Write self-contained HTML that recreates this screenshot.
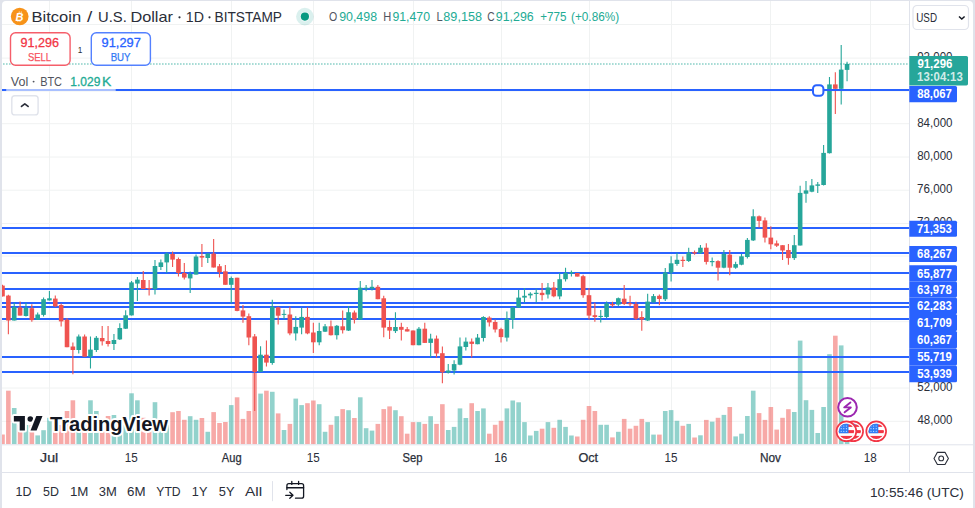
<!DOCTYPE html><html><head><meta charset="utf-8"><style>html,body{margin:0;padding:0;overflow:hidden;background:#e0e3eb}svg{display:block}</style></head><body><svg width="975" height="508" viewBox="0 0 975 508" font-family="Liberation Sans, sans-serif">
<rect width="975" height="508" fill="#e0e3eb"/>
<rect x="2" y="1" width="971" height="540" rx="4" fill="#ffffff"/>
<defs><clipPath id="pane"><rect x="2" y="1" width="907" height="443.5"/></clipPath></defs>
<g clip-path="url(#pane)">
<line x1="49.5" y1="0" x2="49.5" y2="444.5" stroke="#f0f2f2" stroke-width="1"/>
<line x1="131.5" y1="0" x2="131.5" y2="444.5" stroke="#f0f2f2" stroke-width="1"/>
<line x1="231.5" y1="0" x2="231.5" y2="444.5" stroke="#f0f2f2" stroke-width="1"/>
<line x1="313.5" y1="0" x2="313.5" y2="444.5" stroke="#f0f2f2" stroke-width="1"/>
<line x1="413.5" y1="0" x2="413.5" y2="444.5" stroke="#f0f2f2" stroke-width="1"/>
<line x1="501.5" y1="0" x2="501.5" y2="444.5" stroke="#f0f2f2" stroke-width="1"/>
<line x1="589.5" y1="0" x2="589.5" y2="444.5" stroke="#f0f2f2" stroke-width="1"/>
<line x1="671.5" y1="0" x2="671.5" y2="444.5" stroke="#f0f2f2" stroke-width="1"/>
<line x1="770.5" y1="0" x2="770.5" y2="444.5" stroke="#f0f2f2" stroke-width="1"/>
<line x1="870.5" y1="0" x2="870.5" y2="444.5" stroke="#f0f2f2" stroke-width="1"/>
<line x1="0" y1="24.5" x2="909" y2="24.5" stroke="#f0f2f2" stroke-width="1"/>
<line x1="0" y1="58.1" x2="909" y2="58.1" stroke="#f0f2f2" stroke-width="1"/>
<line x1="0" y1="91" x2="909" y2="91" stroke="#f0f2f2" stroke-width="1"/>
<line x1="0" y1="123.7" x2="909" y2="123.7" stroke="#f0f2f2" stroke-width="1"/>
<line x1="0" y1="157" x2="909" y2="157" stroke="#f0f2f2" stroke-width="1"/>
<line x1="0" y1="190.2" x2="909" y2="190.2" stroke="#f0f2f2" stroke-width="1"/>
<line x1="0" y1="223.5" x2="909" y2="223.5" stroke="#f0f2f2" stroke-width="1"/>
<line x1="0" y1="256" x2="909" y2="256" stroke="#f0f2f2" stroke-width="1"/>
<line x1="0" y1="289" x2="909" y2="289" stroke="#f0f2f2" stroke-width="1"/>
<line x1="0" y1="321.7" x2="909" y2="321.7" stroke="#f0f2f2" stroke-width="1"/>
<line x1="0" y1="388" x2="909" y2="388" stroke="#f0f2f2" stroke-width="1"/>
<line x1="0" y1="421.3" x2="909" y2="421.3" stroke="#f0f2f2" stroke-width="1"/>
<rect x="0.20" y="434.5" width="4.6" height="9.8" fill="rgba(239,83,80,0.5)"/>
<rect x="6.07" y="390.7" width="4.6" height="53.6" fill="rgba(239,83,80,0.5)"/>
<rect x="11.93" y="408.0" width="4.6" height="36.3" fill="rgba(38,166,154,0.5)"/>
<rect x="17.79" y="425.0" width="4.6" height="19.3" fill="rgba(239,83,80,0.5)"/>
<rect x="23.66" y="425.0" width="4.6" height="19.3" fill="rgba(38,166,154,0.5)"/>
<rect x="29.53" y="425.0" width="4.6" height="19.3" fill="rgba(239,83,80,0.5)"/>
<rect x="35.39" y="435.4" width="4.6" height="8.9" fill="rgba(38,166,154,0.5)"/>
<rect x="41.26" y="430.2" width="4.6" height="14.1" fill="rgba(38,166,154,0.5)"/>
<rect x="47.12" y="417.8" width="4.6" height="26.5" fill="rgba(38,166,154,0.5)"/>
<rect x="52.99" y="425.0" width="4.6" height="19.3" fill="rgba(239,83,80,0.5)"/>
<rect x="58.85" y="425.0" width="4.6" height="19.3" fill="rgba(239,83,80,0.5)"/>
<rect x="64.72" y="411.0" width="4.6" height="33.3" fill="rgba(239,83,80,0.5)"/>
<rect x="70.58" y="400.3" width="4.6" height="44.0" fill="rgba(239,83,80,0.5)"/>
<rect x="76.45" y="425.0" width="4.6" height="19.3" fill="rgba(38,166,154,0.5)"/>
<rect x="82.31" y="425.0" width="4.6" height="19.3" fill="rgba(239,83,80,0.5)"/>
<rect x="88.18" y="400.3" width="4.6" height="44.0" fill="rgba(38,166,154,0.5)"/>
<rect x="94.04" y="411.0" width="4.6" height="33.3" fill="rgba(38,166,154,0.5)"/>
<rect x="99.91" y="425.0" width="4.6" height="19.3" fill="rgba(239,83,80,0.5)"/>
<rect x="105.77" y="416.0" width="4.6" height="28.3" fill="rgba(239,83,80,0.5)"/>
<rect x="111.64" y="415.0" width="4.6" height="29.3" fill="rgba(38,166,154,0.5)"/>
<rect x="117.50" y="425.0" width="4.6" height="19.3" fill="rgba(38,166,154,0.5)"/>
<rect x="123.37" y="425.0" width="4.6" height="19.3" fill="rgba(38,166,154,0.5)"/>
<rect x="129.23" y="393.3" width="4.6" height="51.0" fill="rgba(38,166,154,0.5)"/>
<rect x="135.09" y="400.3" width="4.6" height="44.0" fill="rgba(38,166,154,0.5)"/>
<rect x="140.96" y="417.8" width="4.6" height="26.5" fill="rgba(239,83,80,0.5)"/>
<rect x="146.82" y="425.0" width="4.6" height="19.3" fill="rgba(239,83,80,0.5)"/>
<rect x="152.69" y="402.2" width="4.6" height="42.1" fill="rgba(38,166,154,0.5)"/>
<rect x="158.56" y="425.0" width="4.6" height="19.3" fill="rgba(38,166,154,0.5)"/>
<rect x="164.42" y="425.0" width="4.6" height="19.3" fill="rgba(38,166,154,0.5)"/>
<rect x="170.28" y="412.2" width="4.6" height="32.1" fill="rgba(239,83,80,0.5)"/>
<rect x="176.15" y="411.0" width="4.6" height="33.3" fill="rgba(239,83,80,0.5)"/>
<rect x="182.01" y="419.8" width="4.6" height="24.5" fill="rgba(239,83,80,0.5)"/>
<rect x="187.88" y="416.2" width="4.6" height="28.1" fill="rgba(38,166,154,0.5)"/>
<rect x="193.75" y="419.8" width="4.6" height="24.5" fill="rgba(38,166,154,0.5)"/>
<rect x="199.61" y="418.0" width="4.6" height="26.3" fill="rgba(239,83,80,0.5)"/>
<rect x="205.47" y="431.8" width="4.6" height="12.5" fill="rgba(38,166,154,0.5)"/>
<rect x="211.34" y="412.1" width="4.6" height="32.2" fill="rgba(239,83,80,0.5)"/>
<rect x="217.20" y="423.0" width="4.6" height="21.3" fill="rgba(239,83,80,0.5)"/>
<rect x="223.07" y="422.0" width="4.6" height="22.3" fill="rgba(239,83,80,0.5)"/>
<rect x="228.94" y="405.1" width="4.6" height="39.2" fill="rgba(38,166,154,0.5)"/>
<rect x="234.80" y="397.3" width="4.6" height="47.0" fill="rgba(239,83,80,0.5)"/>
<rect x="240.66" y="418.9" width="4.6" height="25.4" fill="rgba(239,83,80,0.5)"/>
<rect x="246.53" y="411.0" width="4.6" height="33.3" fill="rgba(239,83,80,0.5)"/>
<rect x="252.40" y="372.0" width="4.6" height="72.3" fill="rgba(239,83,80,0.5)"/>
<rect x="258.26" y="393.6" width="4.6" height="50.7" fill="rgba(38,166,154,0.5)"/>
<rect x="264.12" y="390.7" width="4.6" height="53.6" fill="rgba(239,83,80,0.5)"/>
<rect x="269.99" y="391.8" width="4.6" height="52.5" fill="rgba(38,166,154,0.5)"/>
<rect x="275.86" y="413.4" width="4.6" height="30.9" fill="rgba(239,83,80,0.5)"/>
<rect x="281.72" y="430.0" width="4.6" height="14.3" fill="rgba(38,166,154,0.5)"/>
<rect x="287.58" y="423.9" width="4.6" height="20.4" fill="rgba(239,83,80,0.5)"/>
<rect x="293.45" y="398.6" width="4.6" height="45.7" fill="rgba(38,166,154,0.5)"/>
<rect x="299.31" y="405.1" width="4.6" height="39.2" fill="rgba(38,166,154,0.5)"/>
<rect x="305.18" y="403.2" width="4.6" height="41.1" fill="rgba(239,83,80,0.5)"/>
<rect x="311.05" y="400.5" width="4.6" height="43.8" fill="rgba(239,83,80,0.5)"/>
<rect x="316.91" y="404.2" width="4.6" height="40.1" fill="rgba(38,166,154,0.5)"/>
<rect x="322.77" y="431.8" width="4.6" height="12.5" fill="rgba(38,166,154,0.5)"/>
<rect x="328.64" y="424.8" width="4.6" height="19.5" fill="rgba(239,83,80,0.5)"/>
<rect x="334.50" y="416.2" width="4.6" height="28.1" fill="rgba(38,166,154,0.5)"/>
<rect x="340.37" y="409.1" width="4.6" height="35.2" fill="rgba(239,83,80,0.5)"/>
<rect x="346.24" y="410.2" width="4.6" height="34.1" fill="rgba(38,166,154,0.5)"/>
<rect x="352.10" y="418.0" width="4.6" height="26.3" fill="rgba(239,83,80,0.5)"/>
<rect x="357.96" y="397.3" width="4.6" height="47.0" fill="rgba(38,166,154,0.5)"/>
<rect x="363.83" y="428.2" width="4.6" height="16.1" fill="rgba(38,166,154,0.5)"/>
<rect x="369.69" y="430.6" width="4.6" height="13.7" fill="rgba(38,166,154,0.5)"/>
<rect x="375.56" y="423.9" width="4.6" height="20.4" fill="rgba(239,83,80,0.5)"/>
<rect x="381.43" y="409.1" width="4.6" height="35.2" fill="rgba(239,83,80,0.5)"/>
<rect x="387.29" y="406.4" width="4.6" height="37.9" fill="rgba(239,83,80,0.5)"/>
<rect x="393.16" y="410.2" width="4.6" height="34.1" fill="rgba(38,166,154,0.5)"/>
<rect x="399.02" y="416.2" width="4.6" height="28.1" fill="rgba(239,83,80,0.5)"/>
<rect x="404.88" y="433.7" width="4.6" height="10.6" fill="rgba(239,83,80,0.5)"/>
<rect x="410.75" y="422.1" width="4.6" height="22.2" fill="rgba(239,83,80,0.5)"/>
<rect x="416.62" y="422.1" width="4.6" height="22.2" fill="rgba(38,166,154,0.5)"/>
<rect x="422.48" y="423.9" width="4.6" height="20.4" fill="rgba(239,83,80,0.5)"/>
<rect x="428.35" y="416.2" width="4.6" height="28.1" fill="rgba(38,166,154,0.5)"/>
<rect x="434.21" y="423.9" width="4.6" height="20.4" fill="rgba(239,83,80,0.5)"/>
<rect x="440.07" y="404.2" width="4.6" height="40.1" fill="rgba(239,83,80,0.5)"/>
<rect x="445.94" y="430.0" width="4.6" height="14.3" fill="rgba(38,166,154,0.5)"/>
<rect x="451.81" y="426.9" width="4.6" height="17.4" fill="rgba(38,166,154,0.5)"/>
<rect x="457.67" y="408.4" width="4.6" height="35.9" fill="rgba(38,166,154,0.5)"/>
<rect x="463.54" y="418.0" width="4.6" height="26.3" fill="rgba(38,166,154,0.5)"/>
<rect x="469.40" y="403.2" width="4.6" height="41.1" fill="rgba(239,83,80,0.5)"/>
<rect x="475.26" y="411.0" width="4.6" height="33.3" fill="rgba(38,166,154,0.5)"/>
<rect x="481.13" y="408.4" width="4.6" height="35.9" fill="rgba(38,166,154,0.5)"/>
<rect x="487.00" y="433.7" width="4.6" height="10.6" fill="rgba(239,83,80,0.5)"/>
<rect x="492.86" y="424.8" width="4.6" height="19.5" fill="rgba(239,83,80,0.5)"/>
<rect x="498.73" y="420.8" width="4.6" height="23.5" fill="rgba(239,83,80,0.5)"/>
<rect x="504.59" y="408.4" width="4.6" height="35.9" fill="rgba(38,166,154,0.5)"/>
<rect x="510.45" y="400.5" width="4.6" height="43.8" fill="rgba(38,166,154,0.5)"/>
<rect x="516.32" y="402.3" width="4.6" height="42.0" fill="rgba(38,166,154,0.5)"/>
<rect x="522.19" y="422.1" width="4.6" height="22.2" fill="rgba(38,166,154,0.5)"/>
<rect x="528.05" y="435.5" width="4.6" height="8.8" fill="rgba(38,166,154,0.5)"/>
<rect x="533.92" y="430.9" width="4.6" height="13.4" fill="rgba(38,166,154,0.5)"/>
<rect x="539.78" y="428.7" width="4.6" height="15.6" fill="rgba(239,83,80,0.5)"/>
<rect x="545.65" y="422.1" width="4.6" height="22.2" fill="rgba(38,166,154,0.5)"/>
<rect x="551.51" y="427.8" width="4.6" height="16.5" fill="rgba(239,83,80,0.5)"/>
<rect x="557.38" y="419.8" width="4.6" height="24.5" fill="rgba(38,166,154,0.5)"/>
<rect x="563.24" y="426.9" width="4.6" height="17.4" fill="rgba(38,166,154,0.5)"/>
<rect x="569.11" y="435.5" width="4.6" height="8.8" fill="rgba(38,166,154,0.5)"/>
<rect x="574.97" y="436.5" width="4.6" height="7.8" fill="rgba(239,83,80,0.5)"/>
<rect x="580.84" y="419.8" width="4.6" height="24.5" fill="rgba(239,83,80,0.5)"/>
<rect x="586.70" y="406.0" width="4.6" height="38.3" fill="rgba(239,83,80,0.5)"/>
<rect x="592.57" y="411.0" width="4.6" height="33.3" fill="rgba(239,83,80,0.5)"/>
<rect x="598.43" y="424.8" width="4.6" height="19.5" fill="rgba(38,166,154,0.5)"/>
<rect x="604.30" y="424.8" width="4.6" height="19.5" fill="rgba(38,166,154,0.5)"/>
<rect x="610.16" y="437.4" width="4.6" height="6.9" fill="rgba(239,83,80,0.5)"/>
<rect x="616.03" y="431.8" width="4.6" height="12.5" fill="rgba(38,166,154,0.5)"/>
<rect x="621.89" y="418.9" width="4.6" height="25.4" fill="rgba(239,83,80,0.5)"/>
<rect x="627.76" y="428.7" width="4.6" height="15.6" fill="rgba(239,83,80,0.5)"/>
<rect x="633.62" y="425.8" width="4.6" height="18.5" fill="rgba(239,83,80,0.5)"/>
<rect x="639.49" y="418.9" width="4.6" height="25.4" fill="rgba(239,83,80,0.5)"/>
<rect x="645.35" y="422.1" width="4.6" height="22.2" fill="rgba(38,166,154,0.5)"/>
<rect x="651.22" y="434.6" width="4.6" height="9.7" fill="rgba(38,166,154,0.5)"/>
<rect x="657.08" y="434.6" width="4.6" height="9.7" fill="rgba(239,83,80,0.5)"/>
<rect x="662.95" y="411.0" width="4.6" height="33.3" fill="rgba(38,166,154,0.5)"/>
<rect x="668.81" y="410.1" width="4.6" height="34.2" fill="rgba(38,166,154,0.5)"/>
<rect x="674.68" y="420.8" width="4.6" height="23.5" fill="rgba(38,166,154,0.5)"/>
<rect x="680.54" y="425.8" width="4.6" height="18.5" fill="rgba(239,83,80,0.5)"/>
<rect x="686.41" y="423.9" width="4.6" height="20.4" fill="rgba(38,166,154,0.5)"/>
<rect x="692.27" y="437.5" width="4.6" height="6.8" fill="rgba(239,83,80,0.5)"/>
<rect x="698.14" y="435.3" width="4.6" height="9.0" fill="rgba(38,166,154,0.5)"/>
<rect x="704.00" y="419.9" width="4.6" height="24.4" fill="rgba(239,83,80,0.5)"/>
<rect x="709.87" y="421.7" width="4.6" height="22.6" fill="rgba(38,166,154,0.5)"/>
<rect x="715.73" y="417.8" width="4.6" height="26.5" fill="rgba(239,83,80,0.5)"/>
<rect x="721.60" y="414.9" width="4.6" height="29.4" fill="rgba(38,166,154,0.5)"/>
<rect x="727.46" y="407.0" width="4.6" height="37.3" fill="rgba(239,83,80,0.5)"/>
<rect x="733.33" y="436.4" width="4.6" height="7.9" fill="rgba(38,166,154,0.5)"/>
<rect x="739.19" y="433.7" width="4.6" height="10.6" fill="rgba(38,166,154,0.5)"/>
<rect x="745.06" y="416.0" width="4.6" height="28.3" fill="rgba(38,166,154,0.5)"/>
<rect x="750.92" y="390.7" width="4.6" height="53.6" fill="rgba(38,166,154,0.5)"/>
<rect x="756.79" y="413.1" width="4.6" height="31.2" fill="rgba(239,83,80,0.5)"/>
<rect x="762.65" y="419.9" width="4.6" height="24.4" fill="rgba(239,83,80,0.5)"/>
<rect x="768.52" y="407.0" width="4.6" height="37.3" fill="rgba(239,83,80,0.5)"/>
<rect x="774.38" y="429.6" width="4.6" height="14.7" fill="rgba(239,83,80,0.5)"/>
<rect x="780.25" y="417.8" width="4.6" height="26.5" fill="rgba(239,83,80,0.5)"/>
<rect x="786.11" y="409.2" width="4.6" height="35.1" fill="rgba(239,83,80,0.5)"/>
<rect x="791.98" y="412.0" width="4.6" height="32.3" fill="rgba(38,166,154,0.5)"/>
<rect x="797.84" y="340.6" width="4.6" height="103.7" fill="rgba(38,166,154,0.5)"/>
<rect x="803.71" y="400.2" width="4.6" height="44.1" fill="rgba(38,166,154,0.5)"/>
<rect x="809.57" y="409.9" width="4.6" height="34.4" fill="rgba(38,166,154,0.5)"/>
<rect x="815.44" y="433.0" width="4.6" height="11.3" fill="rgba(38,166,154,0.5)"/>
<rect x="821.30" y="407.0" width="4.6" height="37.3" fill="rgba(38,166,154,0.5)"/>
<rect x="827.17" y="354.2" width="4.6" height="90.1" fill="rgba(38,166,154,0.5)"/>
<rect x="833.03" y="335.7" width="4.6" height="108.6" fill="rgba(239,83,80,0.5)"/>
<rect x="838.90" y="345.4" width="4.6" height="98.9" fill="rgba(38,166,154,0.5)"/>
<rect x="844.76" y="440.0" width="4.6" height="4.3" fill="rgba(38,166,154,0.5)"/>
<line x1="0" y1="228.00" x2="909" y2="228.00" stroke="#2962ff" stroke-width="2"/>
<line x1="0" y1="253.00" x2="909" y2="253.00" stroke="#2962ff" stroke-width="2"/>
<line x1="0" y1="273.00" x2="909" y2="273.00" stroke="#2962ff" stroke-width="2"/>
<line x1="0" y1="289.00" x2="909" y2="289.00" stroke="#2962ff" stroke-width="2"/>
<line x1="0" y1="303.00" x2="909" y2="303.00" stroke="#2962ff" stroke-width="2"/>
<line x1="0" y1="307.00" x2="909" y2="307.00" stroke="#2962ff" stroke-width="2"/>
<line x1="0" y1="319.00" x2="909" y2="319.00" stroke="#2962ff" stroke-width="2"/>
<line x1="0" y1="357.00" x2="909" y2="357.00" stroke="#2962ff" stroke-width="2"/>
<line x1="0" y1="372.00" x2="909" y2="372.00" stroke="#2962ff" stroke-width="2"/>
<line x1="2.50" y1="284.7" x2="2.50" y2="296.4" stroke="#ef5350" stroke-width="1.1"/>
<rect x="0.20" y="285.6" width="4.6" height="10.8" fill="#ef5350"/>
<line x1="8.37" y1="294.8" x2="8.37" y2="334.3" stroke="#ef5350" stroke-width="1.1"/>
<rect x="6.07" y="295.6" width="4.6" height="24.9" fill="#ef5350"/>
<line x1="14.23" y1="302.7" x2="14.23" y2="320.5" stroke="#26a69a" stroke-width="1.1"/>
<rect x="11.93" y="307.1" width="4.6" height="13.4" fill="#26a69a"/>
<line x1="20.09" y1="301.6" x2="20.09" y2="315.6" stroke="#ef5350" stroke-width="1.1"/>
<rect x="17.79" y="307.5" width="4.6" height="8.1" fill="#ef5350"/>
<line x1="25.96" y1="302.7" x2="25.96" y2="316.6" stroke="#26a69a" stroke-width="1.1"/>
<rect x="23.66" y="307.8" width="4.6" height="8.2" fill="#26a69a"/>
<line x1="31.83" y1="304.3" x2="31.83" y2="321.8" stroke="#ef5350" stroke-width="1.1"/>
<rect x="29.53" y="308.2" width="4.6" height="11.9" fill="#ef5350"/>
<line x1="37.69" y1="312.6" x2="37.69" y2="319.9" stroke="#26a69a" stroke-width="1.1"/>
<rect x="35.39" y="314.5" width="4.6" height="5.2" fill="#26a69a"/>
<line x1="43.55" y1="297.6" x2="43.55" y2="316.5" stroke="#26a69a" stroke-width="1.1"/>
<rect x="41.26" y="299.2" width="4.6" height="15.7" fill="#26a69a"/>
<line x1="49.42" y1="291.0" x2="49.42" y2="300.4" stroke="#26a69a" stroke-width="1.1"/>
<rect x="47.12" y="298.3" width="4.6" height="2.1" fill="#26a69a"/>
<line x1="55.29" y1="295.5" x2="55.29" y2="307.1" stroke="#ef5350" stroke-width="1.1"/>
<rect x="52.99" y="298.6" width="4.6" height="7.7" fill="#ef5350"/>
<line x1="61.15" y1="303.6" x2="61.15" y2="326.5" stroke="#ef5350" stroke-width="1.1"/>
<rect x="58.85" y="305.0" width="4.6" height="16.4" fill="#ef5350"/>
<line x1="67.02" y1="318.0" x2="67.02" y2="347.2" stroke="#ef5350" stroke-width="1.1"/>
<rect x="64.72" y="319.7" width="4.6" height="27.5" fill="#ef5350"/>
<line x1="72.88" y1="342.5" x2="72.88" y2="374.3" stroke="#ef5350" stroke-width="1.1"/>
<rect x="70.58" y="346.5" width="4.6" height="3.5" fill="#ef5350"/>
<line x1="78.75" y1="334.6" x2="78.75" y2="353.5" stroke="#26a69a" stroke-width="1.1"/>
<rect x="76.45" y="336.5" width="4.6" height="13.5" fill="#26a69a"/>
<line x1="84.61" y1="334.6" x2="84.61" y2="356.7" stroke="#ef5350" stroke-width="1.1"/>
<rect x="82.31" y="336.5" width="4.6" height="20.2" fill="#ef5350"/>
<line x1="90.48" y1="336.5" x2="90.48" y2="368.5" stroke="#26a69a" stroke-width="1.1"/>
<rect x="88.18" y="349.6" width="4.6" height="7.1" fill="#26a69a"/>
<line x1="96.34" y1="336.0" x2="96.34" y2="352.0" stroke="#26a69a" stroke-width="1.1"/>
<rect x="94.04" y="337.8" width="4.6" height="12.2" fill="#26a69a"/>
<line x1="102.20" y1="326.0" x2="102.20" y2="345.4" stroke="#ef5350" stroke-width="1.1"/>
<rect x="99.91" y="338.0" width="4.6" height="3.3" fill="#ef5350"/>
<line x1="108.07" y1="326.0" x2="108.07" y2="346.5" stroke="#ef5350" stroke-width="1.1"/>
<rect x="105.77" y="341.0" width="4.6" height="3.0" fill="#ef5350"/>
<line x1="113.94" y1="333.9" x2="113.94" y2="350.0" stroke="#26a69a" stroke-width="1.1"/>
<rect x="111.64" y="340.0" width="4.6" height="4.0" fill="#26a69a"/>
<line x1="119.80" y1="323.3" x2="119.80" y2="340.0" stroke="#26a69a" stroke-width="1.1"/>
<rect x="117.50" y="328.0" width="4.6" height="11.4" fill="#26a69a"/>
<line x1="125.67" y1="310.2" x2="125.67" y2="329.0" stroke="#26a69a" stroke-width="1.1"/>
<rect x="123.37" y="315.3" width="4.6" height="13.4" fill="#26a69a"/>
<line x1="131.53" y1="281.0" x2="131.53" y2="315.6" stroke="#26a69a" stroke-width="1.1"/>
<rect x="129.23" y="282.4" width="4.6" height="33.0" fill="#26a69a"/>
<line x1="137.40" y1="277.0" x2="137.40" y2="301.0" stroke="#26a69a" stroke-width="1.1"/>
<rect x="135.09" y="279.6" width="4.6" height="4.0" fill="#26a69a"/>
<line x1="143.26" y1="271.0" x2="143.26" y2="289.0" stroke="#ef5350" stroke-width="1.1"/>
<rect x="140.96" y="280.0" width="4.6" height="9.0" fill="#ef5350"/>
<line x1="149.12" y1="280.0" x2="149.12" y2="295.6" stroke="#ef5350" stroke-width="1.1"/>
<rect x="146.82" y="288.0" width="4.6" height="1.0" fill="#ef5350"/>
<line x1="154.99" y1="260.0" x2="154.99" y2="294.4" stroke="#26a69a" stroke-width="1.1"/>
<rect x="152.69" y="266.0" width="4.6" height="23.0" fill="#26a69a"/>
<line x1="160.86" y1="259.4" x2="160.86" y2="270.0" stroke="#26a69a" stroke-width="1.1"/>
<rect x="158.56" y="262.4" width="4.6" height="4.6" fill="#26a69a"/>
<line x1="166.72" y1="252.4" x2="166.72" y2="273.0" stroke="#26a69a" stroke-width="1.1"/>
<rect x="164.42" y="253.6" width="4.6" height="8.8" fill="#26a69a"/>
<line x1="172.59" y1="251.6" x2="172.59" y2="267.0" stroke="#ef5350" stroke-width="1.1"/>
<rect x="170.28" y="254.0" width="4.6" height="5.6" fill="#ef5350"/>
<line x1="178.45" y1="257.6" x2="178.45" y2="276.4" stroke="#ef5350" stroke-width="1.1"/>
<rect x="176.15" y="259.0" width="4.6" height="14.0" fill="#ef5350"/>
<line x1="184.31" y1="263.0" x2="184.31" y2="279.6" stroke="#ef5350" stroke-width="1.1"/>
<rect x="182.01" y="273.0" width="4.6" height="4.6" fill="#ef5350"/>
<line x1="190.18" y1="271.6" x2="190.18" y2="293.0" stroke="#26a69a" stroke-width="1.1"/>
<rect x="187.88" y="274.0" width="4.6" height="4.4" fill="#26a69a"/>
<line x1="196.05" y1="254.4" x2="196.05" y2="274.6" stroke="#26a69a" stroke-width="1.1"/>
<rect x="193.75" y="256.5" width="4.6" height="18.1" fill="#26a69a"/>
<line x1="201.91" y1="243.9" x2="201.91" y2="267.0" stroke="#ef5350" stroke-width="1.1"/>
<rect x="199.61" y="256.0" width="4.6" height="1.6" fill="#ef5350"/>
<line x1="207.78" y1="253.3" x2="207.78" y2="263.0" stroke="#26a69a" stroke-width="1.1"/>
<rect x="205.47" y="253.6" width="4.6" height="4.4" fill="#26a69a"/>
<line x1="213.64" y1="239.0" x2="213.64" y2="267.5" stroke="#ef5350" stroke-width="1.1"/>
<rect x="211.34" y="253.6" width="4.6" height="13.9" fill="#ef5350"/>
<line x1="219.50" y1="263.9" x2="219.50" y2="277.6" stroke="#ef5350" stroke-width="1.1"/>
<rect x="217.20" y="266.2" width="4.6" height="6.0" fill="#ef5350"/>
<line x1="225.37" y1="265.0" x2="225.37" y2="284.8" stroke="#ef5350" stroke-width="1.1"/>
<rect x="223.07" y="271.3" width="4.6" height="13.5" fill="#ef5350"/>
<line x1="231.24" y1="276.5" x2="231.24" y2="303.2" stroke="#26a69a" stroke-width="1.1"/>
<rect x="228.94" y="278.0" width="4.6" height="6.8" fill="#26a69a"/>
<line x1="237.10" y1="277.7" x2="237.10" y2="311.3" stroke="#ef5350" stroke-width="1.1"/>
<rect x="234.80" y="277.7" width="4.6" height="33.2" fill="#ef5350"/>
<line x1="242.97" y1="305.0" x2="242.97" y2="322.8" stroke="#ef5350" stroke-width="1.1"/>
<rect x="240.66" y="310.4" width="4.6" height="6.2" fill="#ef5350"/>
<line x1="248.83" y1="313.4" x2="248.83" y2="345.3" stroke="#ef5350" stroke-width="1.1"/>
<rect x="246.53" y="316.2" width="4.6" height="21.3" fill="#ef5350"/>
<line x1="254.70" y1="334.0" x2="254.70" y2="411.0" stroke="#ef5350" stroke-width="1.1"/>
<rect x="252.40" y="336.4" width="4.6" height="35.5" fill="#ef5350"/>
<line x1="260.56" y1="346.3" x2="260.56" y2="371.9" stroke="#26a69a" stroke-width="1.1"/>
<rect x="258.26" y="354.7" width="4.6" height="17.2" fill="#26a69a"/>
<line x1="266.43" y1="340.5" x2="266.43" y2="366.5" stroke="#ef5350" stroke-width="1.1"/>
<rect x="264.12" y="354.7" width="4.6" height="7.9" fill="#ef5350"/>
<line x1="272.29" y1="299.7" x2="272.29" y2="364.8" stroke="#26a69a" stroke-width="1.1"/>
<rect x="269.99" y="306.8" width="4.6" height="56.2" fill="#26a69a"/>
<line x1="278.16" y1="306.8" x2="278.16" y2="324.5" stroke="#ef5350" stroke-width="1.1"/>
<rect x="275.86" y="307.4" width="4.6" height="8.3" fill="#ef5350"/>
<line x1="284.02" y1="309.5" x2="284.02" y2="319.2" stroke="#26a69a" stroke-width="1.1"/>
<rect x="281.72" y="313.9" width="4.6" height="1.0" fill="#26a69a"/>
<line x1="289.88" y1="306.8" x2="289.88" y2="335.2" stroke="#ef5350" stroke-width="1.1"/>
<rect x="287.58" y="314.5" width="4.6" height="18.9" fill="#ef5350"/>
<line x1="295.75" y1="316.2" x2="295.75" y2="340.5" stroke="#26a69a" stroke-width="1.1"/>
<rect x="293.45" y="326.9" width="4.6" height="6.5" fill="#26a69a"/>
<line x1="301.62" y1="307.7" x2="301.62" y2="334.3" stroke="#26a69a" stroke-width="1.1"/>
<rect x="299.31" y="316.9" width="4.6" height="10.7" fill="#26a69a"/>
<line x1="307.48" y1="307.4" x2="307.48" y2="334.3" stroke="#ef5350" stroke-width="1.1"/>
<rect x="305.18" y="316.9" width="4.6" height="16.5" fill="#ef5350"/>
<line x1="313.35" y1="322.8" x2="313.35" y2="352.9" stroke="#ef5350" stroke-width="1.1"/>
<rect x="311.05" y="332.5" width="4.6" height="9.8" fill="#ef5350"/>
<line x1="319.21" y1="322.8" x2="319.21" y2="345.3" stroke="#26a69a" stroke-width="1.1"/>
<rect x="316.91" y="331.0" width="4.6" height="11.3" fill="#26a69a"/>
<line x1="325.07" y1="324.0" x2="325.07" y2="332.0" stroke="#26a69a" stroke-width="1.1"/>
<rect x="322.77" y="326.3" width="4.6" height="5.4" fill="#26a69a"/>
<line x1="330.94" y1="320.5" x2="330.94" y2="335.6" stroke="#ef5350" stroke-width="1.1"/>
<rect x="328.64" y="326.3" width="4.6" height="8.9" fill="#ef5350"/>
<line x1="336.81" y1="325.0" x2="336.81" y2="339.5" stroke="#26a69a" stroke-width="1.1"/>
<rect x="334.50" y="325.8" width="4.6" height="9.4" fill="#26a69a"/>
<line x1="342.67" y1="310.4" x2="342.67" y2="333.4" stroke="#ef5350" stroke-width="1.1"/>
<rect x="340.37" y="326.3" width="4.6" height="3.9" fill="#ef5350"/>
<line x1="348.54" y1="306.3" x2="348.54" y2="331.1" stroke="#26a69a" stroke-width="1.1"/>
<rect x="346.24" y="312.2" width="4.6" height="18.4" fill="#26a69a"/>
<line x1="354.40" y1="310.4" x2="354.40" y2="323.5" stroke="#ef5350" stroke-width="1.1"/>
<rect x="352.10" y="312.5" width="4.6" height="7.1" fill="#ef5350"/>
<line x1="360.26" y1="281.0" x2="360.26" y2="319.6" stroke="#26a69a" stroke-width="1.1"/>
<rect x="357.96" y="287.7" width="4.6" height="31.9" fill="#26a69a"/>
<line x1="366.13" y1="285.0" x2="366.13" y2="291.3" stroke="#26a69a" stroke-width="1.1"/>
<rect x="363.83" y="287.7" width="4.6" height="1.0" fill="#26a69a"/>
<line x1="372.00" y1="280.1" x2="372.00" y2="290.4" stroke="#26a69a" stroke-width="1.1"/>
<rect x="369.69" y="286.8" width="4.6" height="1.8" fill="#26a69a"/>
<line x1="377.86" y1="285.0" x2="377.86" y2="299.2" stroke="#ef5350" stroke-width="1.1"/>
<rect x="375.56" y="286.8" width="4.6" height="12.4" fill="#ef5350"/>
<line x1="383.73" y1="295.7" x2="383.73" y2="337.3" stroke="#ef5350" stroke-width="1.1"/>
<rect x="381.43" y="298.3" width="4.6" height="29.3" fill="#ef5350"/>
<line x1="389.59" y1="320.5" x2="389.59" y2="339.1" stroke="#ef5350" stroke-width="1.1"/>
<rect x="387.29" y="327.0" width="4.6" height="3.6" fill="#ef5350"/>
<line x1="395.46" y1="312.2" x2="395.46" y2="332.9" stroke="#26a69a" stroke-width="1.1"/>
<rect x="393.16" y="327.0" width="4.6" height="4.1" fill="#26a69a"/>
<line x1="401.32" y1="322.7" x2="401.32" y2="340.4" stroke="#ef5350" stroke-width="1.1"/>
<rect x="399.02" y="326.9" width="4.6" height="2.9" fill="#ef5350"/>
<line x1="407.19" y1="326.9" x2="407.19" y2="331.5" stroke="#ef5350" stroke-width="1.1"/>
<rect x="404.88" y="329.2" width="4.6" height="2.3" fill="#ef5350"/>
<line x1="413.05" y1="330.5" x2="413.05" y2="345.2" stroke="#ef5350" stroke-width="1.1"/>
<rect x="410.75" y="330.5" width="4.6" height="14.7" fill="#ef5350"/>
<line x1="418.92" y1="326.9" x2="418.92" y2="345.2" stroke="#26a69a" stroke-width="1.1"/>
<rect x="416.62" y="328.7" width="4.6" height="16.5" fill="#26a69a"/>
<line x1="424.78" y1="322.7" x2="424.78" y2="342.9" stroke="#ef5350" stroke-width="1.1"/>
<rect x="422.48" y="328.7" width="4.6" height="14.2" fill="#ef5350"/>
<line x1="430.65" y1="333.7" x2="430.65" y2="357.6" stroke="#26a69a" stroke-width="1.1"/>
<rect x="428.35" y="338.6" width="4.6" height="4.3" fill="#26a69a"/>
<line x1="436.51" y1="335.4" x2="436.51" y2="357.6" stroke="#ef5350" stroke-width="1.1"/>
<rect x="434.21" y="338.6" width="4.6" height="14.9" fill="#ef5350"/>
<line x1="442.38" y1="346.4" x2="442.38" y2="383.3" stroke="#ef5350" stroke-width="1.1"/>
<rect x="440.07" y="353.2" width="4.6" height="19.1" fill="#ef5350"/>
<line x1="448.24" y1="364.1" x2="448.24" y2="373.5" stroke="#26a69a" stroke-width="1.1"/>
<rect x="445.94" y="370.5" width="4.6" height="2.1" fill="#26a69a"/>
<line x1="454.11" y1="360.2" x2="454.11" y2="374.4" stroke="#26a69a" stroke-width="1.1"/>
<rect x="451.81" y="364.1" width="4.6" height="6.4" fill="#26a69a"/>
<line x1="459.97" y1="337.6" x2="459.97" y2="365.2" stroke="#26a69a" stroke-width="1.1"/>
<rect x="457.67" y="346.4" width="4.6" height="18.3" fill="#26a69a"/>
<line x1="465.84" y1="337.6" x2="465.84" y2="350.5" stroke="#26a69a" stroke-width="1.1"/>
<rect x="463.54" y="341.6" width="4.6" height="5.4" fill="#26a69a"/>
<line x1="471.70" y1="338.6" x2="471.70" y2="357.6" stroke="#ef5350" stroke-width="1.1"/>
<rect x="469.40" y="341.6" width="4.6" height="2.3" fill="#ef5350"/>
<line x1="477.56" y1="334.1" x2="477.56" y2="344.2" stroke="#26a69a" stroke-width="1.1"/>
<rect x="475.26" y="337.6" width="4.6" height="6.6" fill="#26a69a"/>
<line x1="483.43" y1="316.3" x2="483.43" y2="341.5" stroke="#26a69a" stroke-width="1.1"/>
<rect x="481.13" y="317.0" width="4.6" height="21.0" fill="#26a69a"/>
<line x1="489.30" y1="316.3" x2="489.30" y2="326.4" stroke="#ef5350" stroke-width="1.1"/>
<rect x="487.00" y="317.6" width="4.6" height="4.8" fill="#ef5350"/>
<line x1="495.16" y1="319.4" x2="495.16" y2="332.6" stroke="#ef5350" stroke-width="1.1"/>
<rect x="492.86" y="322.0" width="4.6" height="7.5" fill="#ef5350"/>
<line x1="501.03" y1="327.7" x2="501.03" y2="342.4" stroke="#ef5350" stroke-width="1.1"/>
<rect x="498.73" y="329.1" width="4.6" height="8.0" fill="#ef5350"/>
<line x1="506.89" y1="311.4" x2="506.89" y2="341.5" stroke="#26a69a" stroke-width="1.1"/>
<rect x="504.59" y="318.8" width="4.6" height="18.8" fill="#26a69a"/>
<line x1="512.75" y1="307.0" x2="512.75" y2="328.7" stroke="#26a69a" stroke-width="1.1"/>
<rect x="510.45" y="307.5" width="4.6" height="11.9" fill="#26a69a"/>
<line x1="518.62" y1="289.8" x2="518.62" y2="307.8" stroke="#26a69a" stroke-width="1.1"/>
<rect x="516.32" y="297.6" width="4.6" height="9.9" fill="#26a69a"/>
<line x1="524.49" y1="288.0" x2="524.49" y2="302.5" stroke="#26a69a" stroke-width="1.1"/>
<rect x="522.19" y="295.8" width="4.6" height="1.8" fill="#26a69a"/>
<line x1="530.35" y1="292.2" x2="530.35" y2="298.6" stroke="#26a69a" stroke-width="1.1"/>
<rect x="528.05" y="293.7" width="4.6" height="1.7" fill="#26a69a"/>
<line x1="536.22" y1="288.7" x2="536.22" y2="302.5" stroke="#26a69a" stroke-width="1.1"/>
<rect x="533.92" y="292.8" width="4.6" height="1.2" fill="#26a69a"/>
<line x1="542.08" y1="283.0" x2="542.08" y2="300.4" stroke="#ef5350" stroke-width="1.1"/>
<rect x="539.78" y="292.8" width="4.6" height="2.3" fill="#ef5350"/>
<line x1="547.95" y1="283.0" x2="547.95" y2="298.6" stroke="#26a69a" stroke-width="1.1"/>
<rect x="545.65" y="287.5" width="4.6" height="7.0" fill="#26a69a"/>
<line x1="553.81" y1="282.1" x2="553.81" y2="297.2" stroke="#ef5350" stroke-width="1.1"/>
<rect x="551.51" y="287.5" width="4.6" height="8.8" fill="#ef5350"/>
<line x1="559.68" y1="273.0" x2="559.68" y2="299.3" stroke="#26a69a" stroke-width="1.1"/>
<rect x="557.38" y="279.2" width="4.6" height="17.2" fill="#26a69a"/>
<line x1="565.54" y1="267.7" x2="565.54" y2="281.5" stroke="#26a69a" stroke-width="1.1"/>
<rect x="563.24" y="273.0" width="4.6" height="6.2" fill="#26a69a"/>
<line x1="571.40" y1="270.4" x2="571.40" y2="276.6" stroke="#26a69a" stroke-width="1.1"/>
<rect x="569.11" y="272.1" width="4.6" height="1.3" fill="#26a69a"/>
<line x1="577.27" y1="273.0" x2="577.27" y2="276.6" stroke="#ef5350" stroke-width="1.1"/>
<rect x="574.97" y="273.0" width="4.6" height="3.6" fill="#ef5350"/>
<line x1="583.13" y1="274.8" x2="583.13" y2="297.8" stroke="#ef5350" stroke-width="1.1"/>
<rect x="580.84" y="276.2" width="4.6" height="19.0" fill="#ef5350"/>
<line x1="589.00" y1="288.1" x2="589.00" y2="319.5" stroke="#ef5350" stroke-width="1.1"/>
<rect x="586.70" y="295.2" width="4.6" height="20.4" fill="#ef5350"/>
<line x1="594.87" y1="302.8" x2="594.87" y2="321.8" stroke="#ef5350" stroke-width="1.1"/>
<rect x="592.57" y="315.2" width="4.6" height="1.8" fill="#ef5350"/>
<line x1="600.73" y1="309.9" x2="600.73" y2="322.6" stroke="#26a69a" stroke-width="1.1"/>
<rect x="598.43" y="315.9" width="4.6" height="1.1" fill="#26a69a"/>
<line x1="606.60" y1="301.4" x2="606.60" y2="318.2" stroke="#26a69a" stroke-width="1.1"/>
<rect x="604.30" y="303.5" width="4.6" height="13.5" fill="#26a69a"/>
<line x1="612.46" y1="301.7" x2="612.46" y2="307.0" stroke="#ef5350" stroke-width="1.1"/>
<rect x="610.16" y="304.0" width="4.6" height="1.3" fill="#ef5350"/>
<line x1="618.33" y1="297.5" x2="618.33" y2="306.3" stroke="#26a69a" stroke-width="1.1"/>
<rect x="616.03" y="298.2" width="4.6" height="6.4" fill="#26a69a"/>
<line x1="624.19" y1="285.1" x2="624.19" y2="304.9" stroke="#ef5350" stroke-width="1.1"/>
<rect x="621.89" y="298.7" width="4.6" height="5.3" fill="#ef5350"/>
<line x1="630.06" y1="295.7" x2="630.06" y2="306.3" stroke="#ef5350" stroke-width="1.1"/>
<rect x="627.76" y="303.2" width="4.6" height="1.0" fill="#ef5350"/>
<line x1="635.92" y1="301.7" x2="635.92" y2="320.0" stroke="#ef5350" stroke-width="1.1"/>
<rect x="633.62" y="304.0" width="4.6" height="14.7" fill="#ef5350"/>
<line x1="641.78" y1="311.2" x2="641.78" y2="330.8" stroke="#ef5350" stroke-width="1.1"/>
<rect x="639.49" y="317.0" width="4.6" height="2.5" fill="#ef5350"/>
<line x1="647.65" y1="293.7" x2="647.65" y2="321.0" stroke="#26a69a" stroke-width="1.1"/>
<rect x="645.35" y="301.6" width="4.6" height="18.9" fill="#26a69a"/>
<line x1="653.51" y1="294.0" x2="653.51" y2="302.6" stroke="#26a69a" stroke-width="1.1"/>
<rect x="651.22" y="296.1" width="4.6" height="6.2" fill="#26a69a"/>
<line x1="659.38" y1="294.4" x2="659.38" y2="305.3" stroke="#ef5350" stroke-width="1.1"/>
<rect x="657.08" y="295.8" width="4.6" height="3.2" fill="#ef5350"/>
<line x1="665.25" y1="268.1" x2="665.25" y2="301.0" stroke="#26a69a" stroke-width="1.1"/>
<rect x="662.95" y="272.5" width="4.6" height="26.7" fill="#26a69a"/>
<line x1="671.11" y1="256.2" x2="671.11" y2="281.4" stroke="#26a69a" stroke-width="1.1"/>
<rect x="668.81" y="263.3" width="4.6" height="9.2" fill="#26a69a"/>
<line x1="676.98" y1="252.7" x2="676.98" y2="265.8" stroke="#26a69a" stroke-width="1.1"/>
<rect x="674.68" y="259.8" width="4.6" height="4.2" fill="#26a69a"/>
<line x1="682.84" y1="256.6" x2="682.84" y2="266.9" stroke="#ef5350" stroke-width="1.1"/>
<rect x="680.54" y="259.8" width="4.6" height="1.2" fill="#ef5350"/>
<line x1="688.71" y1="247.7" x2="688.71" y2="261.9" stroke="#26a69a" stroke-width="1.1"/>
<rect x="686.41" y="252.7" width="4.6" height="8.3" fill="#26a69a"/>
<line x1="694.57" y1="250.4" x2="694.57" y2="254.8" stroke="#ef5350" stroke-width="1.1"/>
<rect x="692.27" y="252.1" width="4.6" height="1.3" fill="#ef5350"/>
<line x1="700.44" y1="245.0" x2="700.44" y2="254.0" stroke="#26a69a" stroke-width="1.1"/>
<rect x="698.14" y="247.7" width="4.6" height="5.3" fill="#26a69a"/>
<line x1="706.30" y1="243.3" x2="706.30" y2="264.5" stroke="#ef5350" stroke-width="1.1"/>
<rect x="704.00" y="247.7" width="4.6" height="14.2" fill="#ef5350"/>
<line x1="712.17" y1="257.5" x2="712.17" y2="266.3" stroke="#26a69a" stroke-width="1.1"/>
<rect x="709.87" y="261.0" width="4.6" height="1.2" fill="#26a69a"/>
<line x1="718.03" y1="260.2" x2="718.03" y2="280.6" stroke="#ef5350" stroke-width="1.1"/>
<rect x="715.73" y="261.1" width="4.6" height="6.6" fill="#ef5350"/>
<line x1="723.89" y1="250.0" x2="723.89" y2="268.2" stroke="#26a69a" stroke-width="1.1"/>
<rect x="721.60" y="254.0" width="4.6" height="13.7" fill="#26a69a"/>
<line x1="729.76" y1="250.0" x2="729.76" y2="275.3" stroke="#ef5350" stroke-width="1.1"/>
<rect x="727.46" y="254.6" width="4.6" height="13.1" fill="#ef5350"/>
<line x1="735.62" y1="261.7" x2="735.62" y2="268.7" stroke="#26a69a" stroke-width="1.1"/>
<rect x="733.33" y="264.1" width="4.6" height="3.6" fill="#26a69a"/>
<line x1="741.49" y1="254.0" x2="741.49" y2="265.2" stroke="#26a69a" stroke-width="1.1"/>
<rect x="739.19" y="256.3" width="4.6" height="8.4" fill="#26a69a"/>
<line x1="747.36" y1="238.1" x2="747.36" y2="258.5" stroke="#26a69a" stroke-width="1.1"/>
<rect x="745.06" y="239.9" width="4.6" height="17.1" fill="#26a69a"/>
<line x1="753.22" y1="209.2" x2="753.22" y2="241.1" stroke="#26a69a" stroke-width="1.1"/>
<rect x="750.92" y="216.3" width="4.6" height="24.1" fill="#26a69a"/>
<line x1="759.09" y1="215.6" x2="759.09" y2="227.5" stroke="#ef5350" stroke-width="1.1"/>
<rect x="756.79" y="216.3" width="4.6" height="4.6" fill="#ef5350"/>
<line x1="764.95" y1="217.4" x2="764.95" y2="242.5" stroke="#ef5350" stroke-width="1.1"/>
<rect x="762.65" y="220.4" width="4.6" height="17.2" fill="#ef5350"/>
<line x1="770.82" y1="226.2" x2="770.82" y2="249.3" stroke="#ef5350" stroke-width="1.1"/>
<rect x="768.52" y="237.6" width="4.6" height="6.7" fill="#ef5350"/>
<line x1="776.68" y1="240.4" x2="776.68" y2="247.0" stroke="#ef5350" stroke-width="1.1"/>
<rect x="774.38" y="243.4" width="4.6" height="2.3" fill="#ef5350"/>
<line x1="782.55" y1="245.2" x2="782.55" y2="259.9" stroke="#ef5350" stroke-width="1.1"/>
<rect x="780.25" y="245.2" width="4.6" height="5.3" fill="#ef5350"/>
<line x1="788.41" y1="243.9" x2="788.41" y2="264.7" stroke="#ef5350" stroke-width="1.1"/>
<rect x="786.11" y="250.0" width="4.6" height="8.1" fill="#ef5350"/>
<line x1="794.27" y1="235.1" x2="794.27" y2="259.9" stroke="#26a69a" stroke-width="1.1"/>
<rect x="791.98" y="245.2" width="4.6" height="12.9" fill="#26a69a"/>
<line x1="800.14" y1="185.8" x2="800.14" y2="245.5" stroke="#26a69a" stroke-width="1.1"/>
<rect x="797.84" y="192.9" width="4.6" height="52.6" fill="#26a69a"/>
<line x1="806.00" y1="181.1" x2="806.00" y2="202.8" stroke="#26a69a" stroke-width="1.1"/>
<rect x="803.71" y="190.4" width="4.6" height="3.3" fill="#26a69a"/>
<line x1="811.87" y1="179.1" x2="811.87" y2="192.3" stroke="#26a69a" stroke-width="1.1"/>
<rect x="809.57" y="185.4" width="4.6" height="6.3" fill="#26a69a"/>
<line x1="817.74" y1="181.9" x2="817.74" y2="192.9" stroke="#26a69a" stroke-width="1.1"/>
<rect x="815.44" y="184.4" width="4.6" height="1.4" fill="#26a69a"/>
<line x1="823.60" y1="145.1" x2="823.60" y2="185.5" stroke="#26a69a" stroke-width="1.1"/>
<rect x="821.30" y="152.9" width="4.6" height="32.1" fill="#26a69a"/>
<line x1="829.47" y1="77.0" x2="829.47" y2="153.4" stroke="#26a69a" stroke-width="1.1"/>
<rect x="827.17" y="84.4" width="4.6" height="68.8" fill="#26a69a"/>
<line x1="835.33" y1="72.3" x2="835.33" y2="114.0" stroke="#ef5350" stroke-width="1.1"/>
<rect x="833.03" y="84.4" width="4.6" height="4.4" fill="#ef5350"/>
<line x1="841.20" y1="45.0" x2="841.20" y2="104.6" stroke="#26a69a" stroke-width="1.1"/>
<rect x="838.90" y="69.6" width="4.6" height="19.2" fill="#26a69a"/>
<line x1="847.06" y1="61.7" x2="847.06" y2="81.3" stroke="#26a69a" stroke-width="1.1"/>
<rect x="844.76" y="63.9" width="4.6" height="6.0" fill="#26a69a"/>
<line x1="0" y1="90" x2="909" y2="90" stroke="#2962ff" stroke-width="2"/>
<line x1="3" y1="64" x2="909" y2="64" stroke="#26a69a" stroke-opacity="0.8" stroke-width="1.1" stroke-dasharray="1.6 1.4"/>
</g>
<line x1="2" y1="444.8" x2="973" y2="444.8" stroke="#e0e3eb" stroke-width="1"/>
<line x1="909.5" y1="1" x2="909.5" y2="472" stroke="#e0e3eb" stroke-width="1"/>
<line x1="2" y1="472.5" x2="973" y2="472.5" stroke="#e0e3eb" stroke-width="1"/>
<text x="917.18" y="61.47" font-size="12" font-weight="normal" fill="#2a2e39" textLength="35.31" lengthAdjust="spacingAndGlyphs" >92,000</text>
<text x="917.18" y="127.43" font-size="12" font-weight="normal" fill="#2a2e39" textLength="35.31" lengthAdjust="spacingAndGlyphs" >84,000</text>
<text x="917.18" y="160.41" font-size="12" font-weight="normal" fill="#2a2e39" textLength="35.31" lengthAdjust="spacingAndGlyphs" >80,000</text>
<text x="917.12" y="193.39" font-size="12" font-weight="normal" fill="#2a2e39" textLength="35.37" lengthAdjust="spacingAndGlyphs" >76,000</text>
<text x="917.12" y="226.37" font-size="12" font-weight="normal" fill="#2a2e39" textLength="35.37" lengthAdjust="spacingAndGlyphs" >72,000</text>
<text x="917.12" y="259.35" font-size="12" font-weight="normal" fill="#2a2e39" textLength="35.37" lengthAdjust="spacingAndGlyphs" >68,000</text>
<text x="917.24" y="391.27" font-size="12" font-weight="normal" fill="#2a2e39" textLength="35.25" lengthAdjust="spacingAndGlyphs" >52,000</text>
<text x="917.47" y="424.25" font-size="12" font-weight="normal" fill="#2a2e39" textLength="35.01" lengthAdjust="spacingAndGlyphs" >48,000</text>
<path d="M909.3 86 H955.5 Q957 86 957 87.5 V100.7 Q957 102.2 955.5 102.2 H909.3 Z" fill="#2962ff"/>
<text x="917.16" y="98.40" font-size="12" font-weight="bold" fill="#fff" textLength="34.68" lengthAdjust="spacingAndGlyphs" >88,067</text>
<path d="M909.3 220.8 H955.5 Q957 220.8 957 222.3 V235.2 Q957 236.7 955.5 236.7 H909.3 Z" fill="#2962ff"/>
<text x="917.05" y="233.05" font-size="12" font-weight="bold" fill="#fff" textLength="34.74" lengthAdjust="spacingAndGlyphs" >71,353</text>
<path d="M909.3 246 H955.5 Q957 246 957 247.5 V260.6 Q957 262.1 955.5 262.1 H909.3 Z" fill="#2962ff"/>
<text x="917.10" y="258.35" font-size="12" font-weight="bold" fill="#fff" textLength="34.74" lengthAdjust="spacingAndGlyphs" >68,267</text>
<path d="M909.3 265.2 H955.5 Q957 265.2 957 266.7 V280.0 Q957 281.5 955.5 281.5 H909.3 Z" fill="#2962ff"/>
<text x="917.10" y="277.65" font-size="12" font-weight="bold" fill="#fff" textLength="34.74" lengthAdjust="spacingAndGlyphs" >65,877</text>
<path d="M909.3 281.5 H955.5 Q957 281.5 957 283.0 V296.1 Q957 297.6 955.5 297.6 H909.3 Z" fill="#2962ff"/>
<text x="917.10" y="293.85" font-size="12" font-weight="bold" fill="#fff" textLength="34.62" lengthAdjust="spacingAndGlyphs" >63,978</text>
<path d="M909.3 297.6 H955.5 Q957 297.6 957 299.1 V312.6 Q957 314.1 955.5 314.1 H909.3 Z" fill="#2962ff"/>
<text x="917.10" y="310.15" font-size="12" font-weight="bold" fill="#fff" textLength="34.68" lengthAdjust="spacingAndGlyphs" >62,283</text>
<path d="M909.3 314.1 H955.5 Q957 314.1 957 315.6 V329.5 Q957 331 955.5 331 H909.3 Z" fill="#2962ff"/>
<text x="917.10" y="326.85" font-size="12" font-weight="bold" fill="#fff" textLength="34.68" lengthAdjust="spacingAndGlyphs" >61,709</text>
<path d="M909.3 331 H955.5 Q957 331 957 332.5 V346.9 Q957 348.4 955.5 348.4 H909.3 Z" fill="#2962ff"/>
<text x="917.10" y="344.00" font-size="12" font-weight="bold" fill="#fff" textLength="34.74" lengthAdjust="spacingAndGlyphs" >60,367</text>
<path d="M909.3 348.6 H955.5 Q957 348.6 957 350.1 V364.1 Q957 365.6 955.5 365.6 H909.3 Z" fill="#2962ff"/>
<text x="917.16" y="361.40" font-size="12" font-weight="bold" fill="#fff" textLength="34.62" lengthAdjust="spacingAndGlyphs" >55,719</text>
<path d="M909.3 365.6 H955.5 Q957 365.6 957 367.1 V380.7 Q957 382.2 955.5 382.2 H909.3 Z" fill="#2962ff"/>
<text x="917.16" y="378.20" font-size="12" font-weight="bold" fill="#fff" textLength="34.62" lengthAdjust="spacingAndGlyphs" >53,939</text>
<path d="M909.3 56 H966.4 Q968 56 968 57.6 V83.8 Q968 85.4 966.4 85.4 H909.3 Z" fill="#26a69a"/>
<text x="917.40" y="67.50" font-size="12" font-weight="bold" fill="#fff" textLength="34.99" lengthAdjust="spacingAndGlyphs" >91,296</text>
<text x="917.12" y="81.20" font-size="12" font-weight="bold" fill="rgba(255,255,255,0.8)" textLength="45.62" lengthAdjust="spacingAndGlyphs" >13:04:13</text>
<text x="40.11" y="461.80" font-size="12" font-weight="normal" fill="#2a2e39" textLength="18.13" lengthAdjust="spacingAndGlyphs"  stroke="#2a2e39" stroke-width="0.25">Jul</text>
<text x="124.86" y="461.80" font-size="12" font-weight="normal" fill="#2a2e39" textLength="12.97" lengthAdjust="spacingAndGlyphs" >15</text>
<text x="221.82" y="461.80" font-size="12" font-weight="normal" fill="#2a2e39" textLength="19.77" lengthAdjust="spacingAndGlyphs"  stroke="#2a2e39" stroke-width="0.25">Aug</text>
<text x="306.67" y="461.80" font-size="12" font-weight="normal" fill="#2a2e39" textLength="12.97" lengthAdjust="spacingAndGlyphs" >15</text>
<text x="402.52" y="461.80" font-size="12" font-weight="normal" fill="#2a2e39" textLength="20.00" lengthAdjust="spacingAndGlyphs"  stroke="#2a2e39" stroke-width="0.25">Sep</text>
<text x="494.35" y="461.80" font-size="12" font-weight="normal" fill="#2a2e39" textLength="12.97" lengthAdjust="spacingAndGlyphs" >16</text>
<text x="578.46" y="461.80" font-size="12" font-weight="normal" fill="#2a2e39" textLength="19.69" lengthAdjust="spacingAndGlyphs"  stroke="#2a2e39" stroke-width="0.25">Oct</text>
<text x="664.44" y="461.80" font-size="12" font-weight="normal" fill="#2a2e39" textLength="12.97" lengthAdjust="spacingAndGlyphs" >15</text>
<text x="759.88" y="461.80" font-size="12" font-weight="normal" fill="#2a2e39" textLength="21.04" lengthAdjust="spacingAndGlyphs"  stroke="#2a2e39" stroke-width="0.25">Nov</text>
<text x="863.85" y="461.80" font-size="12" font-weight="normal" fill="#2a2e39" textLength="12.97" lengthAdjust="spacingAndGlyphs" >18</text>
<g transform="translate(941.2,458.4)" fill="none" stroke="#2a2e39" stroke-width="1.1"><path d="M-7.2 0 L-3.8 -6.05 L3.8 -6.05 L7.2 0 L3.8 6.05 L-3.8 6.05 Z" stroke-linejoin="round"/><circle r="2.4"/></g>
<text x="15.56" y="495.90" font-size="13" font-weight="normal" fill="#2a2e39" textLength="15.94" lengthAdjust="spacingAndGlyphs" >1D</text>
<text x="43.00" y="495.90" font-size="13" font-weight="normal" fill="#2a2e39" textLength="15.90" lengthAdjust="spacingAndGlyphs" >5D</text>
<text x="69.90" y="495.90" font-size="13" font-weight="normal" fill="#2a2e39" textLength="18.52" lengthAdjust="spacingAndGlyphs" >1M</text>
<text x="98.78" y="495.90" font-size="13" font-weight="normal" fill="#2a2e39" textLength="18.01" lengthAdjust="spacingAndGlyphs" >3M</text>
<text x="127.03" y="495.90" font-size="13" font-weight="normal" fill="#2a2e39" textLength="18.49" lengthAdjust="spacingAndGlyphs" >6M</text>
<text x="156.30" y="495.90" font-size="13" font-weight="normal" fill="#2a2e39" textLength="24.35" lengthAdjust="spacingAndGlyphs" >YTD</text>
<text x="191.85" y="495.90" font-size="13" font-weight="normal" fill="#2a2e39" textLength="15.55" lengthAdjust="spacingAndGlyphs" >1Y</text>
<text x="218.79" y="495.90" font-size="13" font-weight="normal" fill="#2a2e39" textLength="15.71" lengthAdjust="spacingAndGlyphs" >5Y</text>
<text x="245.10" y="495.90" font-size="13" font-weight="normal" fill="#2a2e39" textLength="17.12" lengthAdjust="spacingAndGlyphs" >All</text>
<line x1="272.5" y1="481.1" x2="272.5" y2="501.2" stroke="#e0e3eb" stroke-width="1"/>
<g fill="none" stroke="#131722" stroke-width="1.3" stroke-linecap="round" stroke-linejoin="round"><path d="M286.9 489.6 V485.7 Q286.9 483.7 288.9 483.7 H301.6 Q303.6 483.7 303.6 485.7 V496.2 Q303.6 498.2 301.6 498.2 H295.5"/><path d="M287 487.8 H303.5" stroke-width="1.5"/><path d="M291.8 481.4 V484.4 M298.6 481.4 V484.4"/><path d="M285.7 495.3 H293 M289.8 492.3 L293 495.3 L289.8 498.3"/></g>
<text x="869.98" y="496.50" font-size="12.5" font-weight="normal" fill="#2a2e39" textLength="93.86" lengthAdjust="spacingAndGlyphs" >10:55:46 (UTC)</text>
<circle cx="19.7" cy="16.5" r="8.85" fill="#f7931a"/>
<text x="19.6" y="20.7" font-size="11" font-weight="bold" text-anchor="middle" fill="#fff" font-style="italic">B</text><path d="M19.3 11.6 L19.1 12.8 M21.3 11.6 L21.1 12.8 M18.1 20.5 L17.9 21.7 M20.1 20.5 L19.9 21.7" stroke="#fff" stroke-width="0.9"/>
<text x="31.58" y="22.20" font-size="14.5" font-weight="normal" fill="#2a2e39" textLength="49.52" lengthAdjust="spacingAndGlyphs" >Bitcoin</text>
<text x="87.00" y="22.20" font-size="14.5" font-weight="normal" fill="#2a2e39" textLength="5.26" lengthAdjust="spacingAndGlyphs" >/</text>
<text x="98.09" y="22.20" font-size="14.5" font-weight="normal" fill="#2a2e39" textLength="28.71" lengthAdjust="spacingAndGlyphs" >U.S.</text>
<text x="130.40" y="22.20" font-size="14.5" font-weight="normal" fill="#2a2e39" textLength="42.58" lengthAdjust="spacingAndGlyphs" >Dollar</text>
<circle cx="179.50" cy="17.3" r="1.1" fill="#2a2e39"/>
<text x="185.84" y="22.20" font-size="14.5" font-weight="normal" fill="#2a2e39" textLength="18.15" lengthAdjust="spacingAndGlyphs" >1D</text>
<circle cx="209.50" cy="17.3" r="1.1" fill="#2a2e39"/>
<text x="214.50" y="22.20" font-size="14.5" font-weight="normal" fill="#2a2e39" textLength="67.50" lengthAdjust="spacingAndGlyphs" >BITSTAMP</text>
<circle cx="304.9" cy="16.6" r="8.8" fill="rgba(38,166,154,0.17)"/><circle cx="304.9" cy="16.6" r="5.2" fill="rgba(255,255,255,0.45)"/><circle cx="304.9" cy="16.6" r="4.1" fill="#089981"/>
<text x="329.10" y="21.4" font-size="12.5" fill="#50535e" textLength="8.20" lengthAdjust="spacingAndGlyphs">O</text>
<text x="339.14" y="21.40" font-size="12.5" font-weight="normal" fill="#22ab94" textLength="37.94" lengthAdjust="spacingAndGlyphs" >90,498</text>
<text x="383.30" y="21.4" font-size="12.5" fill="#50535e" textLength="8.00" lengthAdjust="spacingAndGlyphs">H</text>
<text x="392.45" y="21.40" font-size="12.5" font-weight="normal" fill="#22ab94" textLength="37.57" lengthAdjust="spacingAndGlyphs" >91,470</text>
<text x="436.40" y="21.4" font-size="12.5" fill="#50535e" textLength="6.20" lengthAdjust="spacingAndGlyphs">L</text>
<text x="443.33" y="21.40" font-size="12.5" font-weight="normal" fill="#22ab94" textLength="38.66" lengthAdjust="spacingAndGlyphs" >89,158</text>
<text x="487.30" y="21.4" font-size="12.5" fill="#50535e" textLength="7.40" lengthAdjust="spacingAndGlyphs">C</text>
<text x="495.74" y="21.40" font-size="12.5" font-weight="normal" fill="#22ab94" textLength="37.94" lengthAdjust="spacingAndGlyphs" >91,296</text>
<text x="540.32" y="21.40" font-size="12.5" font-weight="normal" fill="#22ab94" textLength="26.17" lengthAdjust="spacingAndGlyphs" >+775</text>
<text x="570.99" y="21.40" font-size="12.5" font-weight="normal" fill="#22ab94" textLength="48.22" lengthAdjust="spacingAndGlyphs" >(+0.86%)</text>
<rect x="10.5" y="32.8" width="59.6" height="32.4" rx="5" fill="#fff" stroke="#f23645" stroke-opacity="0.8" stroke-width="1.4"/>
<text x="20.58" y="47.20" font-size="12.5" font-weight="normal" fill="#f23645" textLength="38.45" lengthAdjust="spacingAndGlyphs"  stroke="#f23645" stroke-width="0.3">91,296</text>
<text x="27.90" y="60.80" font-size="11" font-weight="normal" fill="#f7525f" textLength="23.17" lengthAdjust="spacingAndGlyphs"  stroke="#f7525f" stroke-width="0.25">SELL</text>
<text x="77.78" y="52.90" font-size="9.5" font-weight="normal" fill="#2a2e39" textLength="4.60" lengthAdjust="spacingAndGlyphs" >1</text>
<rect x="91.3" y="32.8" width="59.1" height="32.4" rx="5" fill="#fff" stroke="#2962ff" stroke-opacity="0.8" stroke-width="1.4"/>
<text x="101.57" y="47.20" font-size="12.5" font-weight="normal" fill="#2962ff" textLength="39.20" lengthAdjust="spacingAndGlyphs"  stroke="#2962ff" stroke-width="0.3">91,297</text>
<text x="110.65" y="60.80" font-size="11" font-weight="normal" fill="#3179f5" textLength="19.93" lengthAdjust="spacingAndGlyphs"  stroke="#3179f5" stroke-width="0.25">BUY</text>
<rect x="6.2" y="73" width="109.5" height="18" fill="rgba(255,255,255,0.6)"/>
<text x="10.84" y="85.90" font-size="12" font-weight="normal" fill="#50535e" textLength="17.38" lengthAdjust="spacingAndGlyphs" >Vol</text>
<circle cx="33.6" cy="81.6" r="0.95" fill="#50535e"/>
<text x="40.13" y="85.90" font-size="12" font-weight="normal" fill="#50535e" textLength="21.86" lengthAdjust="spacingAndGlyphs" >BTC</text>
<text x="70.35" y="85.90" font-size="12" font-weight="normal" fill="#22ab94" textLength="30.07" lengthAdjust="spacingAndGlyphs"  stroke="#22ab94" stroke-width="0.3">1.029</text>
<text x="101.94" y="85.90" font-size="12" font-weight="normal" fill="#22ab94" textLength="9.28" lengthAdjust="spacingAndGlyphs"  stroke="#22ab94" stroke-width="0.3">K</text>
<rect x="11.8" y="95.7" width="26.3" height="19.2" rx="3" fill="#fff" stroke="#e0e3eb" stroke-width="1.4"/>
<path d="M21.5 106.4 L24.8 103.8 L28.1 106.4" fill="none" stroke="#2a2e39" stroke-width="1.7" stroke-linecap="round" stroke-linejoin="round"/>
<rect x="913" y="5.5" width="55.5" height="24" rx="4" fill="#fff" stroke="#e0e3eb" stroke-width="1.2"/>
<text x="916.26" y="21.70" font-size="12.5" font-weight="normal" fill="#2a2e39" textLength="20.80" lengthAdjust="spacingAndGlyphs" >USD</text>
<path d="M959 16.5 L961.8 19 L964.6 16.5" fill="none" stroke="#131722" stroke-width="1.5"/>
<rect x="813" y="85.2" width="10.4" height="10.6" rx="3.5" fill="#fff" stroke="#2962ff" stroke-width="2"/>
<g stroke="#fff" stroke-width="4" paint-order="stroke" stroke-linejoin="round" fill="#131722"><path d="M13.85 416 H24.9 V430.5 H19.7 V421.5 H13.85 Z"/><circle cx="30.3" cy="419" r="2.8"/><path d="M36.3 416 H42.5 L36.6 430.5 H30.5 Z"/><text x="50.00" y="430.50" font-size="20" font-weight="bold" fill="#131722" textLength="117.94" lengthAdjust="spacingAndGlyphs" >TradingView</text></g>
<circle cx="847.5" cy="407.3" r="9.3" fill="#fff" stroke="#9c27b0" stroke-width="2"/>
<path d="M850.4 402.4 L844.2 407.4 H850.8 L844.6 412.3" fill="none" stroke="#9c27b0" stroke-width="1.9" stroke-linecap="round" stroke-linejoin="round"/>
<g transform="translate(853.2,431.3)"><circle r="9.9" fill="#fff" stroke="#f23645" stroke-width="1.7"/><clipPath id="fc853"><circle r="7.7"/></clipPath><g clip-path="url(#fc853)"><rect x="-8" y="-6.9" width="16" height="2.5" fill="#f23645"/><rect x="-8" y="-1.2" width="16" height="3.2" fill="#f23645"/><rect x="-8" y="4.4" width="16" height="3.4" fill="#f23645"/><rect x="-8" y="-8" width="10.1" height="10.2" fill="#2f7ef5"/><circle cx="-5.2" cy="-5.3" r="0.6" fill="#cfe3ff"/><circle cx="-5.2" cy="-2.6" r="0.6" fill="#cfe3ff"/><circle cx="-5.2" cy="0" r="0.6" fill="#cfe3ff"/><circle cx="-2.6" cy="-5.3" r="0.6" fill="#cfe3ff"/><circle cx="-2.6" cy="-2.6" r="0.6" fill="#cfe3ff"/><circle cx="-2.6" cy="0" r="0.6" fill="#cfe3ff"/><circle cx="0" cy="-5.3" r="0.6" fill="#cfe3ff"/><circle cx="0" cy="-2.6" r="0.6" fill="#cfe3ff"/><circle cx="0" cy="0" r="0.6" fill="#cfe3ff"/><rect x="-8" y="2.2" width="16" height="2.2" fill="#fff"/></g></g>
<g transform="translate(846.4,431.3)"><circle r="9.9" fill="#fff" stroke="#f23645" stroke-width="1.7"/><clipPath id="fc846"><circle r="7.7"/></clipPath><g clip-path="url(#fc846)"><rect x="-8" y="-6.9" width="16" height="2.5" fill="#f23645"/><rect x="-8" y="-1.2" width="16" height="3.2" fill="#f23645"/><rect x="-8" y="4.4" width="16" height="3.4" fill="#f23645"/><rect x="-8" y="-8" width="10.1" height="10.2" fill="#2f7ef5"/><circle cx="-5.2" cy="-5.3" r="0.6" fill="#cfe3ff"/><circle cx="-5.2" cy="-2.6" r="0.6" fill="#cfe3ff"/><circle cx="-5.2" cy="0" r="0.6" fill="#cfe3ff"/><circle cx="-2.6" cy="-5.3" r="0.6" fill="#cfe3ff"/><circle cx="-2.6" cy="-2.6" r="0.6" fill="#cfe3ff"/><circle cx="-2.6" cy="0" r="0.6" fill="#cfe3ff"/><circle cx="0" cy="-5.3" r="0.6" fill="#cfe3ff"/><circle cx="0" cy="-2.6" r="0.6" fill="#cfe3ff"/><circle cx="0" cy="0" r="0.6" fill="#cfe3ff"/><rect x="-8" y="2.2" width="16" height="2.2" fill="#fff"/></g></g>
<g transform="translate(876.2,431.3)"><circle r="9.9" fill="#fff" stroke="#f23645" stroke-width="1.7"/><clipPath id="fc876"><circle r="7.7"/></clipPath><g clip-path="url(#fc876)"><rect x="-8" y="-6.9" width="16" height="2.5" fill="#f23645"/><rect x="-8" y="-1.2" width="16" height="3.2" fill="#f23645"/><rect x="-8" y="4.4" width="16" height="3.4" fill="#f23645"/><rect x="-8" y="-8" width="10.1" height="10.2" fill="#2f7ef5"/><circle cx="-5.2" cy="-5.3" r="0.6" fill="#cfe3ff"/><circle cx="-5.2" cy="-2.6" r="0.6" fill="#cfe3ff"/><circle cx="-5.2" cy="0" r="0.6" fill="#cfe3ff"/><circle cx="-2.6" cy="-5.3" r="0.6" fill="#cfe3ff"/><circle cx="-2.6" cy="-2.6" r="0.6" fill="#cfe3ff"/><circle cx="-2.6" cy="0" r="0.6" fill="#cfe3ff"/><circle cx="0" cy="-5.3" r="0.6" fill="#cfe3ff"/><circle cx="0" cy="-2.6" r="0.6" fill="#cfe3ff"/><circle cx="0" cy="0" r="0.6" fill="#cfe3ff"/><rect x="-8" y="2.2" width="16" height="2.2" fill="#fff"/></g></g>
</svg></body></html>
